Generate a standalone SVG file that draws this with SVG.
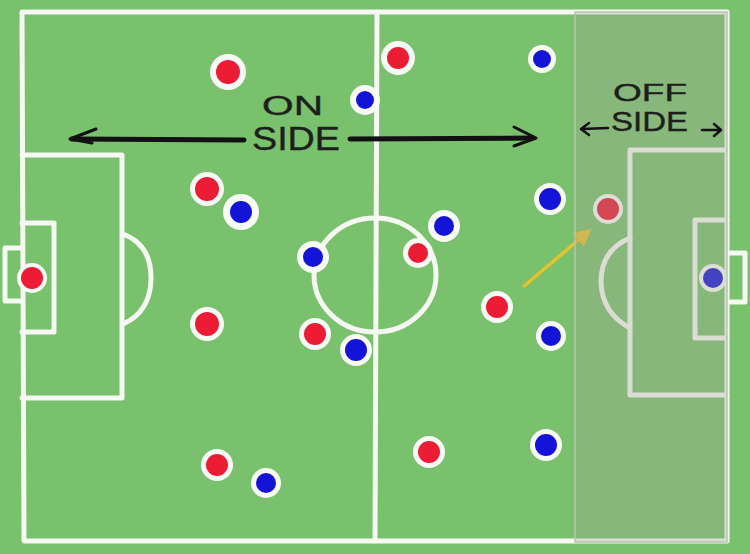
<svg xmlns="http://www.w3.org/2000/svg" width="750" height="554" viewBox="0 0 750 554">
<style>
.ln{fill:none;stroke:#f6f8f2;stroke-width:5;stroke-linecap:round;stroke-linejoin:round}
.ring{fill:#f8faf5}
.red{fill:#ec1c34}
.blue{fill:#1414d8}
.hand{font-family:"Liberation Sans",Arial,sans-serif;fill:#1c1f1a;stroke:#1c1f1a;stroke-width:0.4}
.blk{fill:none;stroke:#111;stroke-linecap:round;stroke-linejoin:round}
</style>
<defs>
<marker id="yhead" viewBox="0 0 10 10" refX="8" refY="5" markerWidth="5" markerHeight="5" orient="auto">
<path d="M0,0 L10,5 L0,10 Z" fill="#e6c22c"/>
</marker>
</defs>
<rect width="750" height="554" fill="#79c16d"/>
<g id="pitch">
<path class="ln" d="M22,12 H727 V541 H24 Z"/>
<path class="ln" d="M377,12 L375,541"/>
<ellipse class="ln" cx="375" cy="275" rx="61" ry="57"/>
<path class="ln" d="M22,155 H122 V398 H22"/>
<path class="ln" d="M22,223 H54 V332 H22"/>
<path class="ln" d="M22,248 H5 V301 H22"/>
<path class="ln" d="M123,234 Q152,245 151,280 Q150,312 123,324"/>
<path class="ln" d="M727,150 H630 V395 H727"/>
<path class="ln" d="M727,220 H695 V338 H727"/>
<path class="ln" d="M727,253 H745 V302 H727"/>
<path class="ln" d="M630,238 Q601,250 601,282 Q602,313 630,328"/>
</g>
<g id="players">
<g id="r1"><circle class="ring" cx="228" cy="72" r="18"/><circle class="red" cx="228" cy="72" r="12"/></g>
<g id="r2"><circle class="ring" cx="398" cy="58" r="17"/><circle class="red" cx="398" cy="58" r="11"/></g>
<g id="r3"><circle class="ring" cx="207" cy="189" r="17"/><circle class="red" cx="207" cy="189" r="12"/></g>
<g id="r4"><circle class="ring" cx="418" cy="253" r="15"/><circle class="red" cx="418" cy="253" r="10"/></g>
<g id="r5"><circle class="ring" cx="32" cy="278" r="15"/><circle class="red" cx="32" cy="278" r="11"/></g>
<g id="r6"><circle class="ring" cx="207" cy="324" r="17"/><circle class="red" cx="207" cy="324" r="12"/></g>
<g id="r7"><circle class="ring" cx="315" cy="334" r="16"/><circle class="red" cx="315" cy="334" r="11"/></g>
<g id="r8"><circle class="ring" cx="497" cy="307" r="16"/><circle class="red" cx="497" cy="307" r="11"/></g>
<g id="r9"><circle class="ring" cx="217" cy="465" r="16"/><circle class="red" cx="217" cy="465" r="11"/></g>
<g id="r10"><circle class="ring" cx="429" cy="452" r="16"/><circle class="red" cx="429" cy="452" r="11"/></g>
<g id="r11"><circle class="ring" cx="608" cy="209" r="15"/><circle class="red" cx="608" cy="209" r="11"/></g>
<g id="b1"><circle class="ring" cx="542" cy="59" r="14"/><circle class="blue" cx="542" cy="59" r="9"/></g>
<g id="b2"><circle class="ring" cx="365" cy="100" r="15"/><circle class="blue" cx="365" cy="100" r="9"/></g>
<g id="b3"><circle class="ring" cx="241" cy="212" r="18"/><circle class="blue" cx="241" cy="212" r="11"/></g>
<g id="b4"><circle class="ring" cx="444" cy="226" r="16"/><circle class="blue" cx="444" cy="226" r="10"/></g>
<g id="b5"><circle class="ring" cx="550" cy="199" r="16"/><circle class="blue" cx="550" cy="199" r="11"/></g>
<g id="b6"><circle class="ring" cx="313" cy="257" r="16"/><circle class="blue" cx="313" cy="257" r="10"/></g>
<g id="b7"><circle class="ring" cx="551" cy="336" r="15"/><circle class="blue" cx="551" cy="336" r="10"/></g>
<g id="b8"><circle class="ring" cx="356" cy="350" r="16"/><circle class="blue" cx="356" cy="350" r="11"/></g>
<g id="b9"><circle class="ring" cx="266" cy="483" r="15"/><circle class="blue" cx="266" cy="483" r="10"/></g>
<g id="b10"><circle class="ring" cx="546" cy="445" r="16"/><circle class="blue" cx="546" cy="445" r="11"/></g>
<g id="b11"><circle class="ring" cx="713" cy="278" r="14"/><circle class="blue" cx="713" cy="278" r="10"/></g>
</g>
<g id="connectors">
<path class="blk" stroke-width="5" d="M72,139 L244,140"/>
<path class="blk" stroke-width="3" d="M96,129 L70,139 L92,143"/>
<path class="blk" stroke-width="5" d="M350,139 L533,138"/>
<path class="blk" stroke-width="3" d="M514,127 L536,138 L514,146"/>
<path d="M523,287 L589,231" stroke="#e6c22c" stroke-width="3.5" fill="none" marker-end="url(#yhead)"/>
</g>
<g id="offside-zone">
<rect x="575" y="12" width="152" height="530" fill="#a4a494" fill-opacity="0.33" stroke="#b8c4b2" stroke-width="1.5"/>
</g>
<g id="onside-label">
<text class="hand" x="262" y="115" font-size="27" textLength="61" lengthAdjust="spacingAndGlyphs">ON</text>
<text class="hand" x="252" y="150" font-size="33" textLength="88" lengthAdjust="spacingAndGlyphs">SIDE</text>
</g>
<g id="offside-label">
<text class="hand" x="613" y="101" font-size="24" textLength="74" lengthAdjust="spacingAndGlyphs">OFF</text>
<text class="hand" x="611" y="131" font-size="27" textLength="77" lengthAdjust="spacingAndGlyphs">SIDE</text>
<path class="blk" stroke-width="2.5" d="M608,128 L582,129 M589,123 L581,129 L589,135"/>
<path class="blk" stroke-width="2.5" d="M702,130 L721,130 M714,124 L721,130 L714,136"/>
</g>
</svg>
